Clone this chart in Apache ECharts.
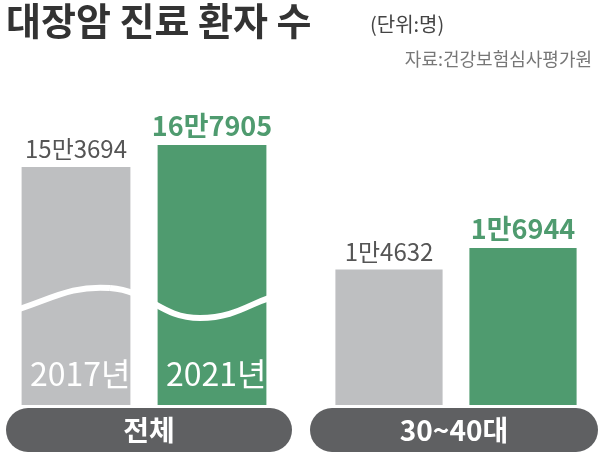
<!DOCTYPE html>
<html><head><meta charset="utf-8">
<script src="https://cdn.jsdelivr.net/npm/echarts@6/dist/echarts.min.js"></script>
<style>html,body{margin:0;padding:0;background:#fff}#c{width:600px;height:454px}</style>
</head><body><div id="c"></div>
<script>
// 데이터
const years = ['2017년', '2021년'];
const groups = ['전체', '30~40대'];
const totalValues = [153694, 167905];
const youngValues = [14632, 16944];
const totalLabels = ['15만3694', '16만7905'];
const youngLabels = ['1만4632', '1만6944'];

const GRAY = '#bebfc1', GREEN = '#4f9b6f', PILL = '#5f6062';
const font = '"Noto Sans CJK KR", sans-serif';

const chart = echarts.init(document.getElementById('c'));

const barSeries = (idx, values, labels) => ({
  type: 'bar',
  xAxisIndex: idx,
  yAxisIndex: idx,
  barWidth: '80%',
  data: values.map((v, i) => ({
    value: v,
    itemStyle: {color: i ? GREEN : GRAY},
    label: {
      color: i ? GREEN : '#555',
      fontWeight: i ? 'bold' : 'normal',
      fontSize: i ? 27 : 24,
    },
  })),
  label: {
    show: true,
    position: 'top',
    distance: 6,
    fontFamily: font,
    formatter: (p) => labels[p.dataIndex],
  },
});

const wave = (x1, y1, cpx1, cpy1, cpx2, cpy2, x2, y2) => ({
  type: 'bezierCurve', z: 100,
  shape: {x1, y1, cpx1, cpy1, cpx2, cpy2, x2, y2},
  style: {stroke: '#fff', lineWidth: 6, fill: null},
});

chart.setOption({
  animation: false,
  grid: [
    {left: 8, width: 272, top: 145, height: 260},
    {left: 322, width: 268, top: 248, height: 157},
  ],
  xAxis: [0, 1].map((i) => ({gridIndex: i, type: 'category', data: years, show: false})),
  yAxis: [
    {gridIndex: 0, min: 0, max: totalValues[1], show: false},
    {gridIndex: 1, min: 0, max: youngValues[1], show: false},
  ],
  series: [barSeries(0, totalValues, totalLabels), barSeries(1, youngValues, youngLabels)],
  graphic: [
    {type: 'text', left: 6, top: 2, style: {text: '대장암 진료 환자 수', font: 'bold 38px ' + font, fill: '#333'}},
    {type: 'text', left: 370, top: 14, style: {text: '(단위:명)', font: '20px ' + font, fill: '#444'}},
    {type: 'text', right: 8, top: 50, style: {text: '자료:건강보험심사평가원', font: '18px ' + font, fill: '#777'}},
    wave(10, 312, 50, 300, 70, 285, 110, 288),
    wave(110, 288, 150, 291, 160, 318, 200, 318),
    wave(200, 318, 240, 318, 255, 298, 285, 294),
    {type: 'text', left: 30, top: 358, z: 100, style: {text: years[0], font: '32px ' + font, fill: '#fff'}},
    {type: 'text', left: 166, top: 358, z: 100, style: {text: years[1], font: '32px ' + font, fill: '#fff'}},
    {type: 'rect', z: 100, shape: {x: 6, y: 408, width: 286, height: 44, r: 22}, style: {fill: PILL}},
    {type: 'rect', z: 100, shape: {x: 310, y: 408, width: 288, height: 44, r: 22}, style: {fill: PILL}},
    {type: 'text', z: 101, x: 149, y: 430, style: {text: groups[0], font: 'bold 28px ' + font, fill: '#fff', align: 'center', verticalAlign: 'middle'}},
    {type: 'text', z: 101, x: 454, y: 430, style: {text: groups[1], font: 'bold 28px ' + font, fill: '#fff', align: 'center', verticalAlign: 'middle'}},
  ],
});
</script></body></html>
